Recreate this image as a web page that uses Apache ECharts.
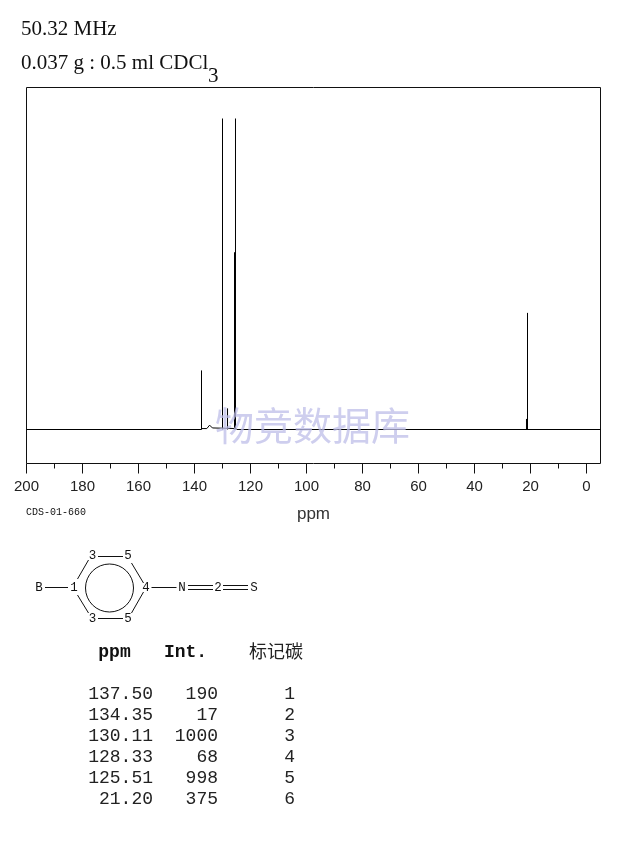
<!DOCTYPE html>
<html><head><meta charset="utf-8">
<style>html,body{margin:0;padding:0;background:#fff}#c{width:625px;height:850px}</style>
<script src="https://cdn.jsdelivr.net/npm/echarts@6/dist/echarts.min.js"></script>
</head><body><div id="c"></div>
<script>
// Baseline trace (ppm, relative intensity); null breaks the line
const tracePpm = [200, 137.5, 137.5, 137.5, 135.6, 135.0, 134.6, 134.35, 134.1, 133.6, 133.0, 125.0, 125.0, 125.0, -5];
const traceInt = [0, 0, null, 3, 3, 6, 14, 17, 14, 5, 3, 3, null, 0, 0];
// Peak sticks
const stickPpm = [137.5, 130.0, 128.2, 125.71, 125.36, 21.43, 21.07];
const stickInt = [190, 1000, 68, 570, 1000, 34, 375];
const majorTicks = [200, 180, 160, 140, 120, 100, 80, 60, 40, 20, 0];
const minorTicks = [190, 170, 150, 130, 110, 90, 70, 50, 30, 10];
// Peak table
const peakPpm = ['137.50', '134.35', '130.11', '128.33', '125.51', '21.20'];
const peakInt = ['190', '17', '1000', '68', '998', '375'];
const peakCarbon = ['1', '2', '3', '4', '5', '6'];
const headers = ['ppm', 'Int.', '标记碳'];
const atomLabels = ['B', '1', '3', '5', '4', '3', '5', 'N', '2', 'S'];

const serif = '"Liberation Serif","Times New Roman",serif';
const mono = '"Liberation Mono","Courier New",monospace';
const txt = (x, y, text, font, align, fill, z) => ({
  type: 'text', x, y, z: z || 10, silent: true,
  style: { text, font, fill: fill || '#222', textAlign: align || 'left', textVerticalAlign: 'middle' }
});
const ln = (x1, y1, x2, y2) => ({
  type: 'line', silent: true, z: 10,
  shape: { x1, y1, x2, y2 }, style: { stroke: '#111', lineWidth: 1 }
});

const g = [];
g.push(txt(21, 29, '50.32 MHz', '21px ' + serif, 'left', '#111'));
g.push(txt(21, 63, '0.037 g : 0.5 ml CDCl', '21px ' + serif, 'left', '#111'));
g.push(txt(208, 76, '3', '21px ' + serif, 'left', '#111'));
g.push(txt(26, 512.5, 'CDS-01-660', '10px ' + mono, 'left', '#111'));
// watermark
g.push(txt(215, 425, '物竞数据库', '39px "Noto Sans CJK SC",sans-serif', 'left', 'rgba(190,190,232,0.75)', 100));

// molecule
const atomPos = [[39,588],[74,588],[92.5,556],[128,556],[146,588],[92.5,619],[128,619],[182,588],[218,588],[254,588]];
atomLabels.forEach((a, i) => g.push(txt(atomPos[i][0], atomPos[i][1], a, '12.5px ' + mono, 'center', '#111')));
[[45,587.5,68,587.5],[77.5,579,88.5,560],[98,556.5,123,556.5],[131.5,563,143.5,583],[143.5,592,131.5,613],[123,618.5,98,618.5],[88.5,613,77.5,595],
 [151.5,587.5,176.5,587.5],[188,585.5,213,585.5],[188,589.5,213,589.5],[223,585.5,248,585.5],[223,589.5,248,589.5]]
  .forEach(s => g.push(ln(s[0], s[1], s[2], s[3])));
g.push({ type: 'circle', silent: true, z: 10, shape: { cx: 109.5, cy: 588, r: 24 }, style: { fill: 'none', stroke: '#111', lineWidth: 1 } });

// table
g.push(txt(114.5, 652, headers[0], 'bold 18px ' + mono, 'center', '#111'));
g.push(txt(185.5, 652, headers[1], 'bold 18px ' + mono, 'center', '#111'));
g.push(txt(276, 651, headers[2], '18px "Noto Sans CJK SC",sans-serif', 'center', '#222'));
peakPpm.forEach((p, i) => {
  const y = 694 + i * 21;
  g.push(txt(153, y, p, '18px ' + mono, 'right'));
  g.push(txt(218, y, peakInt[i], '18px ' + mono, 'right'));
  g.push(txt(295, y, peakCarbon[i], '18px ' + mono, 'right'));
});

const stickData = [];
stickPpm.forEach((p, i) => { stickData.push([p, 0], [p, stickInt[i]], [p, null]); });

const chart = echarts.init(document.getElementById('c'), null, { renderer: 'canvas' });
chart.setOption({
  animation: false,
  backgroundColor: '#fff',
  grid: { left: 26.5, top: 87.5, width: 574, height: 376, show: true, borderColor: '#111', borderWidth: 1, backgroundColor: 'transparent' },
  xAxis: [
    { type: 'value', inverse: true, min: -5, max: 200, position: 'bottom',
      name: 'ppm', nameLocation: 'middle', nameGap: 42,
      nameTextStyle: { fontFamily: 'Liberation Sans', fontSize: 17, color: '#333', fontWeight: 'normal' },
      axisLine: { show: false, onZero: false }, splitLine: { show: false },
      axisTick: { show: true, length: 10, inside: false, customValues: majorTicks, lineStyle: { color: '#111', width: 1 } },
      axisLabel: { show: true, margin: 16, customValues: majorTicks, fontFamily: 'Liberation Sans', fontSize: 15, color: '#222', showMinLabel: true, showMaxLabel: true } },
    { type: 'value', inverse: true, min: -5, max: 200, position: 'bottom',
      axisLine: { show: false, onZero: false }, splitLine: { show: false }, axisLabel: { show: false },
      axisTick: { show: true, length: 5, inside: false, customValues: minorTicks, lineStyle: { color: '#111', width: 1 } } }
  ],
  yAxis: { type: 'value', show: false, min: -109.3, max: 1099.7, splitLine: { show: false } },
  series: [
    { name: 'baseline', type: 'line', xAxisIndex: 0, showSymbol: false, symbol: 'none', connectNulls: false,
      lineStyle: { color: '#000', width: 1 },
      data: tracePpm.map((p, i) => [p, traceInt[i]]) },
    { name: 'peaks', type: 'line', xAxisIndex: 0, showSymbol: false, symbol: 'none', connectNulls: false,
      lineStyle: { color: '#000', width: 1, cap: 'butt' },
      data: stickData }
  ],
  graphic: { elements: g }
});
</script></body></html>
